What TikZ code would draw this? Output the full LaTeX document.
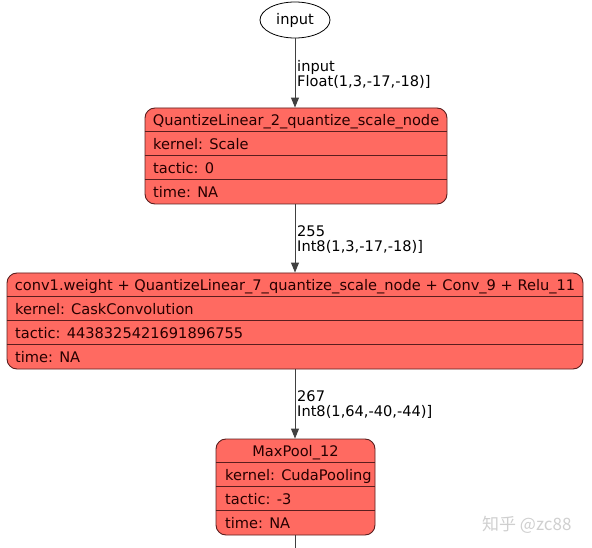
\documentclass[tikz,border=0pt]{standalone}
\usepackage{fontspec}
\setmainfont{DejaVu Sans}
\newfontfamily\cjk{Noto Sans CJK SC}
\usetikzlibrary{shapes.geometric,arrows.meta,calc}
\definecolor{boxfill}{HTML}{FF6A61}
\definecolor{boxline}{HTML}{5A1E1E}
\definecolor{edgecol}{HTML}{404040}
\definecolor{wmark}{HTML}{CFCFCF}
\begin{document}
\begin{tikzpicture}[x=1pt,y=-1pt,
  every node/.style={font=\fontsize{14.6}{15.5}\selectfont, inner sep=0pt},
  recbox/.style={draw=boxline, fill=boxfill, rounded corners=10pt, line width=0.9pt, minimum height=96pt},
  rowsep/.style={draw=boxline, line width=0.8pt},
  rowtext/.style={anchor=base west, text=black!85!red},
  titletext/.style={anchor=base, text=black!85!red},
  inellipse/.style={draw=black, ellipse, line width=0.8pt, minimum width=70pt, minimum height=36pt, fill=white},
  edge/.style={draw=edgecol, line width=1pt, -{Triangle[length=10pt,width=8pt]}},
  plainedge/.style={draw=edgecol, line width=1pt},
  elabel/.style={anchor=north west, align=left},
]
\useasboundingbox (0,0) rectangle (592,548);

% input ellipse
\node[inellipse] (in) at (295,20) {};
\node[anchor=base] (intext) at (295,25) {input};

% box 1
\node[recbox, minimum width=302pt] (b1) at (296,156) {};
\draw[rowsep] ($(b1.north west)+(0,24)$) -- ($(b1.north east)+(0,24)$);
\draw[rowsep] ($(b1.north west)+(0,48)$) -- ($(b1.north east)+(0,48)$);
\draw[rowsep] ($(b1.north west)+(0,72)$) -- ($(b1.north east)+(0,72)$);
\node[titletext] (b1t) at (296,125.5) {QuantizeLinear\_2\_quantize\_scale\_node};
\node[rowtext] (b1k) at (153,149.5) {kernel: Scale};
\node[rowtext] (b1c) at (153,173.5) {tactic: 0};
\node[rowtext] (b1m) at (153,197.5) {time: NA};

% box 2
\node[recbox, minimum width=576pt] (b2) at (295,321) {};
\draw[rowsep] ($(b2.north west)+(0,24)$) -- ($(b2.north east)+(0,24)$);
\draw[rowsep] ($(b2.north west)+(0,48)$) -- ($(b2.north east)+(0,48)$);
\draw[rowsep] ($(b2.north west)+(0,72)$) -- ($(b2.north east)+(0,72)$);
\node[titletext] (b2t) at (295,290.5) {conv1.weight + QuantizeLinear\_7\_quantize\_scale\_node + Conv\_9 + Relu\_11};
\node[rowtext] (b2k) at (15,314.5) {kernel: CaskConvolution};
\node[rowtext] (b2c) at (15,338.5) {tactic: 4438325421691896755};
\node[rowtext] (b2m) at (15,362.5) {time: NA};

% box 3
\node[recbox, minimum width=159pt] (b3) at (295.5,487) {};
\draw[rowsep] ($(b3.north west)+(0,24)$) -- ($(b3.north east)+(0,24)$);
\draw[rowsep] ($(b3.north west)+(0,48)$) -- ($(b3.north east)+(0,48)$);
\draw[rowsep] ($(b3.north west)+(0,72)$) -- ($(b3.north east)+(0,72)$);
\node[titletext] (b3t) at (295.5,456.5) {MaxPool\_12};
\node[rowtext] (b3k) at (225,480.5) {kernel: CudaPooling};
\node[rowtext] (b3c) at (225,504.5) {tactic: -3};
\node[rowtext] (b3m) at (225,528.5) {time: NA};

% edges
\draw[edge] (in.south) -- (in.south |- b1.north);
\draw[edge] (b1.south -| in.south) -- (in.south |- b2.north);
\draw[edge] (b2.south -| in.south) -- (in.south |- b3.north);
\coordinate (bottom) at (295,548);
\draw[plainedge] (b3.south -| bottom) -- (bottom);

% edge labels
\node[elabel] (l1) at (297,60) {input\\Float(1,3,-17,-18)]};
\node[elabel] (l2) at (297,225) {255\\Int8(1,3,-17,-18)]};
\node[elabel] (l3) at (297,390) {267\\Int8(1,64,-40,-44)]};

% watermark
\node[anchor=base west, text=wmark, font=\cjk\fontsize{17}{17}\selectfont] (wm) at (482,530) {知乎 @zc88};
\end{tikzpicture}
\end{document}
